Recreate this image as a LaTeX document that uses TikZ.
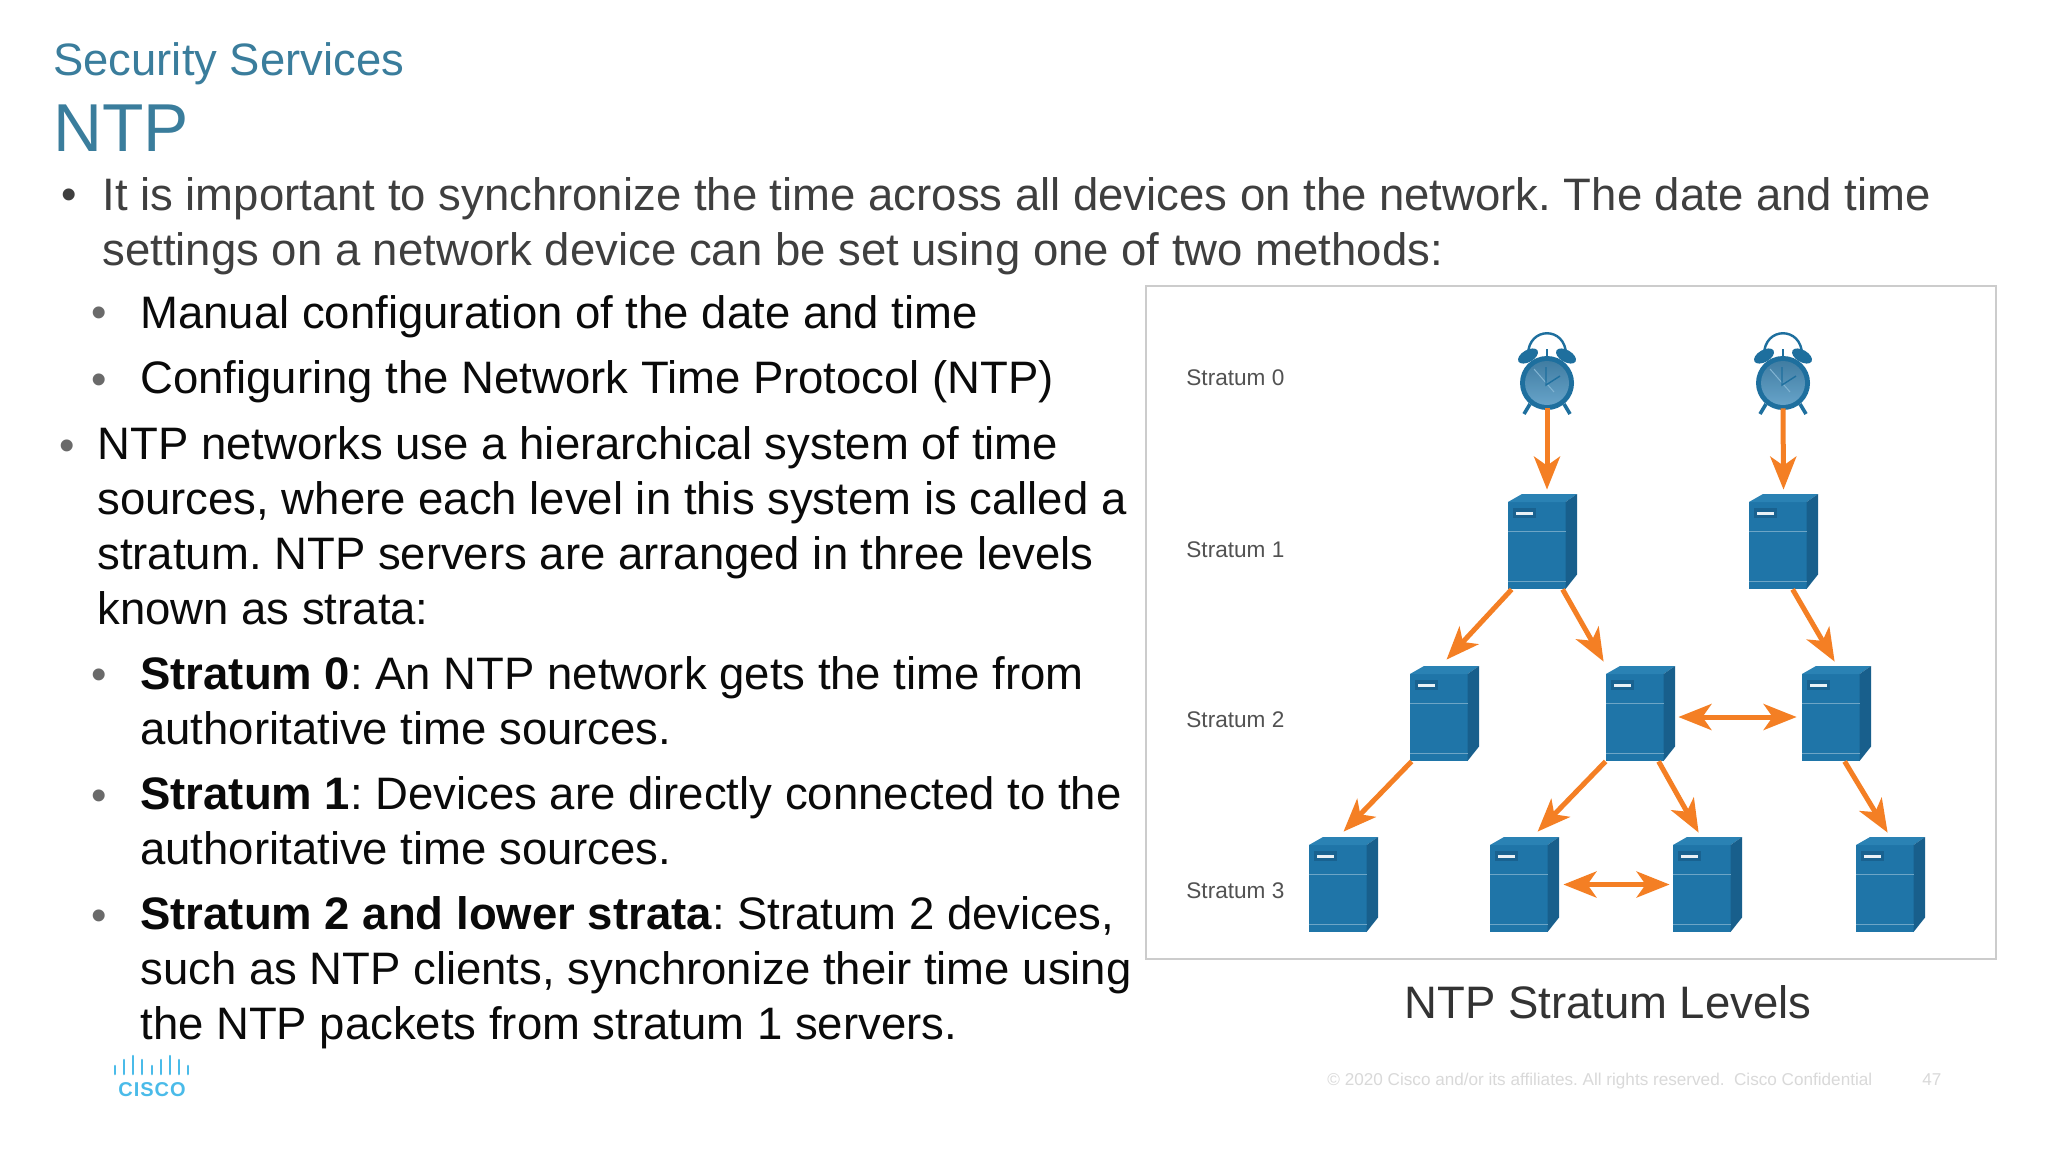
\documentclass[tikz,border=0pt]{standalone}
\usepackage{fontspec}
\setmainfont{Liberation Sans}
\newfontfamily\logofont[LetterSpace=5]{Liberation Sans}
\usetikzlibrary{arrows.meta}
\definecolor{titleblue}{HTML}{3A7D9C}
\definecolor{bodygray}{HTML}{3F3F3F}
\definecolor{bodyblack}{HTML}{0A0A0A}
\definecolor{bulletgray}{HTML}{6A6A6A}
\definecolor{linkorange}{HTML}{F47F24}
\definecolor{srvfront}{HTML}{1F75A8}
\definecolor{srvtop}{HTML}{2A82B4}
\definecolor{srvside}{HTML}{185F8C}
\definecolor{clockdark}{HTML}{1E6F9E}
\definecolor{clockface}{HTML}{4C93BF}
\definecolor{ciscoblue}{HTML}{4ABBE9}
\tikzset{
  x=0.5pt,y=-0.5pt,
  >={Stealth[length=16.5pt,width=13pt,inset=4.5pt]},
  line/.style={anchor=base west,inner sep=0,font=\fontsize{22.75}{27}\selectfont},
  upper/.style={line,text=bodygray},
  lower/.style={line,text=bodyblack},
  dot/.style={anchor=center,inner sep=0,yshift=-2.6pt,text=bulletgray,font=\fontsize{22}{26}\selectfont},
  stratum/.style={anchor=base west,inner sep=0,text=black!68,font=\fontsize{11.3}{13}\selectfont},
  link/.style={line width=2.5pt,linkorange,->},
  linkboth/.style={line width=2.5pt,linkorange,<->},
  server/.style={minimum width=34.5pt,minimum height=47.5pt,inner sep=0,path picture={
    \begin{scope}[shift={(path picture bounding box.center)}]
      \fill [srvfront] (-34.5,-39.5)--(23,-39.5)--(23,47.5)--(-34.5,47.5)--cycle;
      \fill [srvtop] (-34.5,-39.5)--(-20.5,-47.5)--(34.5,-47.5)--(23,-39.5)--cycle;
      \fill [srvside] (23,-39.5)--(34.5,-47.5)--(34.5,33)--(23,47.5)--cycle;
      \draw [srvfront!65!white,line width=0.5pt] (-34.5,-10)--(23,-10);
      \draw [srvfront!65!white,line width=0.5pt] (-34.5,40)--(23,40);
      \fill [srvside!85!srvfront] (-30,-33.5) rectangle (-7,-23.5);
      \fill [white!90!srvfront] (-27,-29.5) rectangle (-10,-26.5);
    \end{scope}}},
  clockbox/.style={minimum width=30pt,minimum height=41pt,inner sep=0},
  clockpic/.pic={
    \draw [clockdark,line width=1.2pt] (-19,-18) .. controls (-19,-47) and (19,-47) .. (19,-18);
    \fill [clockdark,rotate around={30:(-19,-17)}] (-19,-17) ellipse (11 and 6);
    \fill [clockdark,rotate around={-30:(19,-17)}] (19,-17) ellipse (11 and 6);
    \draw [clockdark,line width=1.2pt] (0,-24)--(0,-14);
    \draw [clockdark,line width=1.8pt] (-17,31)--(-23,41) (17,31)--(23,41);
    \fill [clockdark] (0,10) circle (27);
    \shade [top color=clockface!85!black,bottom color=clockface!85!white] (0,10) circle (22);
    \draw [clockface!70!white,line width=0.5pt] (-13,-4)--(7,19);
    \draw [clockdark,line width=0.7pt] (-1,-6)--(-1,12)--(13,3);
  },
}
\begin{document}
\frenchspacing
\begin{tikzpicture}

\useasboundingbox [fill=white] (0,0) rectangle (2048,1152);

% heading
\node [anchor=base west,inner sep=0,text=titleblue,font=\fontsize{22.7}{27}\selectfont](head1) at (53,75.5) {Security Services};
\node [anchor=base west,inner sep=0,text=titleblue,font=\fontsize{33.9}{40}\selectfont](head2) at (53,151) {NTP};

% body text
\node [dot,text=bodygray](dot1) at (69,194) {•};
\node [upper](txt1) at (102,210.5) {It is important to synchronize the time across all devices on the network. The date and time};
\node [upper](txt2) at (102,265.5) {settings on a network device can be set using one of two methods:};
\node [dot](dot2) at (99,312) {•};
\node [lower](txt3) at (140,328.5) {Manual configuration of the date and time};
\node [dot](dot3) at (99,379) {•};
\node [lower](txt4) at (140,393.5) {Configuring the Network Time Protocol (NTP)};
\node [dot](dot4) at (67,445) {•};
\node [lower](txt5) at (97,459.5) {NTP networks use a hierarchical system of time};
\node [lower](txt6) at (97,514.5) {sources, where each level in this system is called a};
\node [lower](txt7) at (97,569.5) {stratum. NTP servers are arranged in three levels};
\node [lower](txt8) at (97,624.5) {known as strata:};
\node [dot](dot5) at (99,674) {•};
\node [lower](txt9) at (140,689.5) {\textbf{Stratum 0}: An NTP network gets the time from};
\node [lower](txt10) at (140,744.5) {authoritative time sources.};
\node [dot](dot6) at (99,795) {•};
\node [lower](txt11) at (140,809.5) {\textbf{Stratum 1}: Devices are directly connected to the};
\node [lower](txt12) at (140,864.5) {authoritative time sources.};
\node [dot](dot7) at (99,915) {•};
\node [lower](txt13) at (140,929.5) {\textbf{Stratum 2 and lower strata}: Stratum 2 devices,};
\node [lower](txt14) at (140,984.5) {such as NTP clients, synchronize their time using};
\node [lower](txt15) at (140,1039.5) {the NTP packets from stratum 1 servers.};

% frame of the figure
\draw [black!20,line width=0.8pt] (1146,286) rectangle (1996,959);
\node [lower,text=black!80](cap) at (1404,1018.5) {NTP Stratum Levels};

\node [stratum](lev0) at (1186,385) {Stratum 0};
\node [stratum](lev1) at (1186,557) {Stratum 1};
\node [stratum](lev2) at (1186,727) {Stratum 2};
\node [stratum](lev3) at (1186,898) {Stratum 3};

% clocks and servers
\node [clockbox](clkA) at (1547,373) {};
\node [clockbox](clkB) at (1783,373) {};
\pic at (clkA) {clockpic};
\pic at (clkB) {clockpic};

\node [server](srvA) at (1542.5,541.5) {};
\node [server](srvB) at (1783.5,541.5) {};

\node [server](srvC) at (1444.5,713.5) {};
\node [server](srvD) at (1640.5,713.5) {};
\node [server](srvE) at (1836.5,713.5) {};

\node [server](srvF) at (1343.5,884.5) {};
\node [server](srvG) at (1524.5,884.5) {};
\node [server](srvH) at (1707.5,884.5) {};
\node [server](srvI) at (1890.5,884.5) {};

% links
\draw [link] ([yshift=3pt]clkA.south)--([xshift=2.25pt,yshift=2pt]srvA.north);
\draw [link] ([yshift=3pt]clkB.south)--([yshift=2pt]srvB.north);
\draw [link] ([xshift=2pt]srvA.south west)--([xshift=1pt,yshift=3pt]srvC.north);
\draw [link] ([xshift=27.5pt]srvA.south west)--([xshift=-1pt,yshift=2pt]srvD.north west);
\draw [link] ([xshift=22pt]srvB.south west)--([xshift=16.5pt,yshift=2pt]srvE.north west);
\draw [link] ([xshift=1pt]srvC.south west)--([yshift=2.5pt]srvF.north);
\draw [link] (srvD.south west)--([xshift=24pt,yshift=2.5pt]srvG.north west);
\draw [link] ([xshift=26.5pt]srvD.south west)--([xshift=13pt,yshift=2pt]srvH.north west);
\draw [link] ([xshift=21.5pt]srvE.south west)--([xshift=16pt,yshift=2pt]srvI.north west);
\draw [linkboth] ([xshift=1.5pt,yshift=-1.75pt]srvD.east)--([xshift=-2.5pt,yshift=-1.75pt]srvE.west);
\draw [linkboth] ([xshift=2pt]srvG.east)--([xshift=-1.5pt]srvH.west);

% logo and footer
\foreach \xpos/\ylen in {115/8,124/14,133/18,142/14,152/8,161/14,170/18,179/14,188/8}
  \draw [ciscoblue,line width=1.3pt,line cap=round] (\xpos,1074-\ylen)--(\xpos,1074);
\node [anchor=center,inner sep=0,text=ciscoblue,font=\fontsize{10}{12}\logofont\bfseries](logo) at (152,1090) {CISCO};
\node [anchor=base west,inner sep=0,text=black!15,font=\fontsize{8.57}{10}\selectfont](foot) at (1327,1085) {© 2020 Cisco and/or its affiliates. All rights reserved.~~Cisco Confidential};
\node [anchor=base west,inner sep=0,text=black!15,font=\fontsize{8.57}{10}\selectfont](page) at (1922,1085) {47};

\end{tikzpicture}
\end{document}
